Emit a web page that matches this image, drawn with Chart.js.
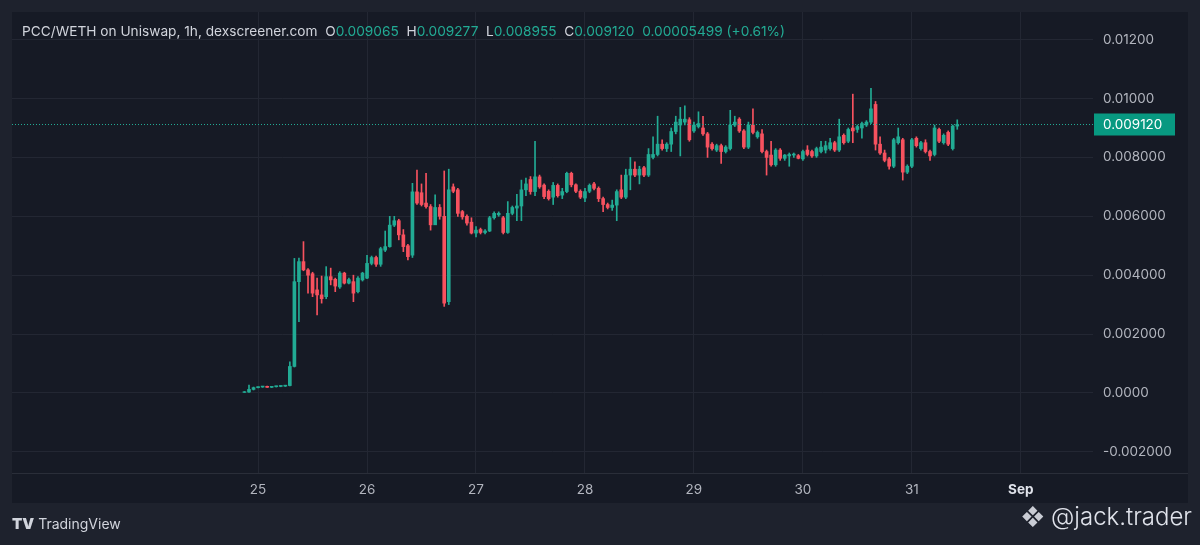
<!DOCTYPE html>
<html>
<head>
<meta charset="utf-8">
<script src="https://cdn.jsdelivr.net/npm/chart.js@4.4.1/dist/chart.umd.min.js"></script>
<style>
html,body{margin:0;padding:0;background:#1e222d;width:1200px;height:545px;overflow:hidden;font-family:Inter,"Noto Sans",sans-serif;}
#wrap{position:relative;width:1200px;height:545px;}
#c{position:absolute;left:0;top:0;}
#hdr{position:absolute;left:22px;top:23px;font-size:13.7px;color:#d1d4dc;white-space:pre;letter-spacing:0;}
#hdr .g{color:#22ab94;}
#tv{position:absolute;left:12px;top:514px;font-size:14px;color:#d1d4dc;white-space:pre;}
#tv b{font-weight:900;font-size:15px;}
#wm{position:absolute;right:8px;top:502px;font-size:24px;color:#e0e3eb;white-space:pre;font-weight:300;}
#wm span{font-size:22px;color:#c9ccd4;}
</style>
</head>
<body>
<div id="wrap">
<canvas id="c" width="1200" height="545"></canvas>
<div id="hdr">PCC/WETH on Uniswap, 1h, dexscreener.com  O<span class="g">0.009065</span>  H<span class="g">0.009277</span>  L<span class="g">0.008955</span>  C<span class="g">0.009120</span>  <span class="g">0.00005499 (+0.61%)</span></div>
<div id="tv"><b>TV</b> TradingView</div>
<div id="wm"><span>❖</span> @jack.trader</div>
</div>
<script>
// Hourly candles, first candle at hour -3 relative to Aug 25 00:00
const startHour = -3;

const open = [
  0.00000, 0.00003, 0.00012,
  0.00018, 0.00020, 0.00022, 0.00019, 0.00021, 0.00022, 0.00023, 0.00025, 0.00090, 0.00378, 0.00446, 0.00418,
  0.00405, 0.00350, 0.00333, 0.00327, 0.00395, 0.00386, 0.00360, 0.00407, 0.00373, 0.00378, 0.00344, 0.00384,
  0.00390, 0.00440, 0.00460, 0.00437, 0.00485, 0.00497, 0.00570, 0.00585, 0.00537, 0.00500, 0.00468, 0.00683,
  0.00680, 0.00645, 0.00633, 0.00571, 0.00630, 0.00600, 0.00310, 0.00700, 0.00690, 0.00616, 0.00600, 0.00580,
  0.00543, 0.00555, 0.00545, 0.00550, 0.00595, 0.00605, 0.00595, 0.00545, 0.00610, 0.00628, 0.00635, 0.00690,
  0.00725, 0.00684, 0.00734, 0.00706, 0.00685, 0.00665, 0.00705, 0.00672, 0.00684, 0.00746, 0.00707, 0.00685,
  0.00662, 0.00685, 0.00710, 0.00695, 0.00660, 0.00640, 0.00630, 0.00638, 0.00690, 0.00665, 0.00740, 0.00760,
  0.00740, 0.00765, 0.00740, 0.00800, 0.00810, 0.00845, 0.00830, 0.00845, 0.00888, 0.00910, 0.00920, 0.00928,
  0.00890, 0.00905, 0.00900, 0.00880, 0.00845, 0.00825, 0.00840, 0.00820, 0.00830, 0.00910, 0.00930, 0.00890,
  0.00835, 0.00910, 0.00870, 0.00880, 0.00820, 0.00808, 0.00775, 0.00825, 0.00797, 0.00805, 0.00808, 0.00806,
  0.00795, 0.00825, 0.00820, 0.00805, 0.00820, 0.00825, 0.00830, 0.00850, 0.00825, 0.00875, 0.00855, 0.00900,
  0.00895, 0.00900, 0.00910, 0.00920, 0.00980, 0.00845, 0.00815, 0.00795, 0.00770, 0.00850, 0.00860, 0.00750,
  0.00770, 0.00865, 0.00830, 0.00850, 0.00820, 0.00810, 0.00895, 0.00850, 0.00885, 0.00830, 0.009065
];
const high = [
  0.00005, 0.00027, 0.00020,
  0.00021, 0.00022, 0.00023, 0.00022, 0.00023, 0.00024, 0.00026, 0.00106, 0.00457, 0.00458, 0.00514, 0.00422,
  0.00410, 0.00390, 0.00397, 0.00429, 0.00424, 0.00390, 0.00412, 0.00410, 0.00390, 0.00400, 0.00395, 0.00410,
  0.00467, 0.00465, 0.00465, 0.00495, 0.00550, 0.00600, 0.00600, 0.00590, 0.00555, 0.00505, 0.00712, 0.00757,
  0.00710, 0.00746, 0.00640, 0.00673, 0.00640, 0.00754, 0.00760, 0.00710, 0.00695, 0.00620, 0.00605, 0.00595,
  0.00565, 0.00560, 0.00555, 0.00600, 0.00615, 0.00615, 0.00600, 0.00650, 0.00635, 0.00675, 0.00723, 0.00730,
  0.00735, 0.00855, 0.00740, 0.00710, 0.00690, 0.00715, 0.00710, 0.00695, 0.00750, 0.00750, 0.00710, 0.00690,
  0.00695, 0.00710, 0.00715, 0.00700, 0.00665, 0.00645, 0.00655, 0.00690, 0.00740, 0.00760, 0.00800, 0.00785,
  0.00770, 0.00770, 0.00830, 0.00870, 0.00940, 0.00860, 0.00850, 0.00900, 0.00940, 0.00970, 0.00975, 0.00935,
  0.00920, 0.00955, 0.00940, 0.00885, 0.00850, 0.00845, 0.00845, 0.00840, 0.00960, 0.00940, 0.00935, 0.00895,
  0.00920, 0.00965, 0.00890, 0.00895, 0.00825, 0.00855, 0.00830, 0.00830, 0.00810, 0.00815, 0.00815, 0.00810,
  0.00825, 0.00840, 0.00825, 0.00835, 0.00855, 0.00855, 0.00865, 0.00855, 0.00930, 0.00880, 0.00900, 0.01015,
  0.00910, 0.00920, 0.00925, 0.01035, 0.00990, 0.00870, 0.00825, 0.00800, 0.00865, 0.00900, 0.00865, 0.00775,
  0.00865, 0.00870, 0.00855, 0.00860, 0.00825, 0.00910, 0.00900, 0.00880, 0.00890, 0.00910, 0.009277
];
const low = [
  0.00000, 0.00000, 0.00010,
  0.00017, 0.00019, 0.00019, 0.00018, 0.00020, 0.00021, 0.00022, 0.00024, 0.00088, 0.00242, 0.00415, 0.00339,
  0.00327, 0.00265, 0.00305, 0.00320, 0.00367, 0.00344, 0.00355, 0.00370, 0.00370, 0.00310, 0.00340, 0.00380,
  0.00388, 0.00435, 0.00430, 0.00430, 0.00480, 0.00495, 0.00565, 0.00520, 0.00480, 0.00452, 0.00460, 0.00640,
  0.00635, 0.00628, 0.00553, 0.00581, 0.00590, 0.00294, 0.00300, 0.00680, 0.00600, 0.00590, 0.00570, 0.00540,
  0.00530, 0.00540, 0.00540, 0.00548, 0.00590, 0.00600, 0.00540, 0.00542, 0.00605, 0.00585, 0.00585, 0.00670,
  0.00675, 0.00670, 0.00695, 0.00660, 0.00655, 0.00640, 0.00665, 0.00660, 0.00680, 0.00700, 0.00680, 0.00660,
  0.00650, 0.00680, 0.00690, 0.00650, 0.00616, 0.00625, 0.00620, 0.00585, 0.00660, 0.00660, 0.00690, 0.00735,
  0.00710, 0.00735, 0.00735, 0.00795, 0.00805, 0.00825, 0.00820, 0.00820, 0.00880, 0.00805, 0.00910, 0.00855,
  0.00885, 0.00900, 0.00875, 0.00800, 0.00825, 0.00820, 0.00780, 0.00815, 0.00825, 0.00905, 0.00885, 0.00830,
  0.00830, 0.00880, 0.00865, 0.00815, 0.00740, 0.00770, 0.00770, 0.00790, 0.00790, 0.00770, 0.00800, 0.00795,
  0.00790, 0.00805, 0.00800, 0.00800, 0.00815, 0.00815, 0.00825, 0.00820, 0.00820, 0.00845, 0.00850, 0.00850,
  0.00885, 0.00865, 0.00905, 0.00915, 0.00825, 0.00810, 0.00785, 0.00760, 0.00765, 0.00845, 0.00723, 0.00745,
  0.00765, 0.00835, 0.00825, 0.00815, 0.00790, 0.00805, 0.00850, 0.00845, 0.00840, 0.00825, 0.008955
];
const close = [
  0.00004, 0.00012, 0.00018,
  0.00020, 0.00021, 0.00019, 0.00021, 0.00022, 0.00023, 0.00025, 0.00090, 0.00378, 0.00446, 0.00418, 0.00400,
  0.00339, 0.00333, 0.00320, 0.00395, 0.00384, 0.00363, 0.00407, 0.00373, 0.00385, 0.00339, 0.00390, 0.00407,
  0.00440, 0.00460, 0.00437, 0.00490, 0.00497, 0.00570, 0.00585, 0.00537, 0.00497, 0.00463, 0.00683, 0.00645,
  0.00640, 0.00633, 0.00571, 0.00630, 0.00600, 0.00305, 0.00690, 0.00685, 0.00610, 0.00598, 0.00577, 0.00543,
  0.00553, 0.00545, 0.00550, 0.00595, 0.00610, 0.00610, 0.00545, 0.00610, 0.00630, 0.00635, 0.00690, 0.00710,
  0.00684, 0.00734, 0.00700, 0.00667, 0.00660, 0.00705, 0.00670, 0.00684, 0.00746, 0.00707, 0.00685, 0.00665,
  0.00684, 0.00705, 0.00695, 0.00660, 0.00640, 0.00630, 0.00638, 0.00684, 0.00665, 0.00740, 0.00760, 0.00740,
  0.00760, 0.00740, 0.00810, 0.00810, 0.00845, 0.00830, 0.00845, 0.00888, 0.00920, 0.00930, 0.00930, 0.00860,
  0.00910, 0.00915, 0.00880, 0.00835, 0.00830, 0.00840, 0.00820, 0.00835, 0.00910, 0.00920, 0.00890, 0.00835,
  0.00910, 0.00885, 0.00885, 0.00820, 0.00800, 0.00775, 0.00825, 0.00797, 0.00808, 0.00810, 0.00810, 0.00797,
  0.00820, 0.00810, 0.00805, 0.00830, 0.00835, 0.00840, 0.00850, 0.00825, 0.00870, 0.00850, 0.00895, 0.00890,
  0.00905, 0.00915, 0.00920, 0.00965, 0.00845, 0.00815, 0.00790, 0.00770, 0.00860, 0.00870, 0.00750, 0.00770,
  0.00860, 0.00840, 0.00850, 0.00820, 0.00805, 0.00900, 0.00855, 0.00875, 0.00845, 0.009065, 0.009120
];

// Axis ticks (hours from Aug 25 00:00)
const dayTickHours = [0, 24, 48, 72, 96, 120, 144, 168];
const dayTickLabels = ['25', '26', '27', '28', '29', '30', '31', 'Sep'];
const priceTicks = [-0.002, 0, 0.002, 0.004, 0.006, 0.008, 0.010, 0.012];
const priceTickLabels = ['-0.002000', '0.0000', '0.002000', '0.004000', '0.006000', '0.008000', '0.01000', '0.01200'];
const lastPriceLabel = '0.009120';

const UP = '#22ab94', DOWN = '#f7525f', GRID = '#232733';
const FONT = 'Inter, "Noto Sans", sans-serif';
const hours = open.map((_, i) => startHour + i);
const isUp = i => close[i] >= open[i];

const wickData = hours.map((h, i) => ({x: h, y: [low[i], high[i]]}));
const bodyData = hours.map((h, i) => ({x: h, y: [open[i], close[i]]}));

const dayLabel = v => { const k = dayTickHours.indexOf(v); return k >= 0 ? dayTickLabels[k] : ''; };
const priceLabel = v => { const k = priceTicks.findIndex(p => Math.abs(p - v) < 1e-9); return k >= 0 ? priceTickLabels[k] : ''; };

const framePlugin = {
  id: 'frame',
  beforeDraw(chart) {
    const c = chart.ctx;
    c.save();
    c.fillStyle = '#1e222d';
    c.fillRect(0, 0, chart.width, chart.height);
    c.fillStyle = '#161a25';
    c.fillRect(12, 12, 1176, 491);
    c.strokeStyle = '#2a2e39';
    c.lineWidth = 1;
    c.beginPath();
    c.moveTo(12, chart.chartArea.bottom + 0.5);
    c.lineTo(1188, chart.chartArea.bottom + 0.5);
    c.stroke();
    c.restore();
  },
  afterDatasetsDraw(chart) {
    const c = chart.ctx, ca = chart.chartArea;
    const y = Math.round(chart.scales.y.getPixelForValue(close[close.length - 1])) + 0.5;
    c.save();
    c.strokeStyle = UP;
    c.lineWidth = 1;
    c.setLineDash([1, 2]);
    c.beginPath();
    c.moveTo(ca.left, y);
    c.lineTo(ca.right, y);
    c.stroke();
    c.setLineDash([]);
    c.fillStyle = '#089981';
    c.fillRect(ca.right + 1, y - 11, 81, 22);
    c.fillStyle = '#ffffff';
    c.font = '13.5px ' + FONT;
    c.textBaseline = 'middle';
    c.textAlign = 'left';
    c.fillText(lastPriceLabel, ca.right + 10, y + 0.5);
    c.restore();
  }
};

new Chart(document.getElementById('c'), {
  type: 'bar',
  data: {
    datasets: [
      {
        label: 'wick',
        data: wickData,
        backgroundColor: ctx => isUp(ctx.dataIndex) ? UP : DOWN,
        barThickness: 1,
        grouped: false,
        minBarLength: 1,
        borderWidth: 0
      },
      {
        label: 'body',
        data: bodyData,
        backgroundColor: ctx => isUp(ctx.dataIndex) ? UP : DOWN,
        barThickness: 3,
        grouped: false,
        minBarLength: 1,
        borderWidth: 0
      }
    ]
  },
  options: {
    responsive: false,
    animation: false,
    devicePixelRatio: 1,
    layout: {padding: {left: 12, top: 12, right: 12, bottom: 42}},
    plugins: {legend: {display: false}, tooltip: {enabled: false}},
    scales: {
      x: {
        type: 'linear',
        min: -54.2,
        max: 183.9,
        offset: false,
        afterBuildTicks: s => { s.ticks = dayTickHours.map(v => ({value: v})); },
        afterFit: s => { s.height = 30; s.paddingLeft = 0; s.paddingRight = 0; },
        grid: {color: GRID, drawTicks: false, offset: false},
        border: {display: false},
        ticks: {
          autoSkip: false,
          maxRotation: 0,
          padding: 9,
          color: ctx => (ctx.tick && dayLabel(ctx.tick.value) === 'Sep') ? '#e0e3eb' : '#b2b5be',
          font: ctx => ({family: FONT, size: 13.5,
                         weight: (ctx.tick && dayLabel(ctx.tick.value) === 'Sep') ? 'bold' : 'normal'}),
          callback: v => dayLabel(v)
        }
      },
      y: {
        type: 'linear',
        position: 'right',
        min: -0.00272,
        max: 0.01294,
        afterBuildTicks: s => { s.ticks = priceTicks.map(v => ({value: v})); },
        afterFit: s => { s.width = 95; s.paddingTop = 0; s.paddingBottom = 0; },
        grid: {color: GRID, drawTicks: false},
        border: {display: false},
        ticks: {
          padding: 10,
          color: '#b2b5be',
          font: {family: FONT, size: 13.5},
          callback: v => priceLabel(v)
        }
      }
    }
  },
  plugins: [framePlugin]
});
</script>
</body>
</html>
